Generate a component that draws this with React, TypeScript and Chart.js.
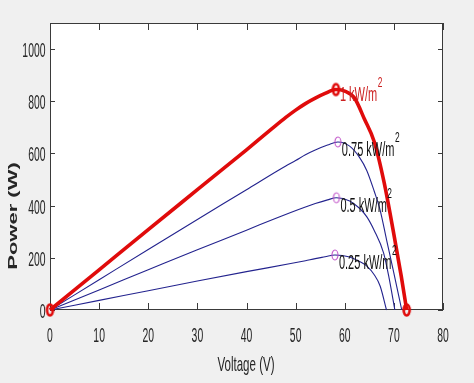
import React, { useEffect, useRef } from 'react';
import { Chart, registerables } from 'chart.js';

Chart.register(...registerables);

// ---- data ----
const xTicks = [0, 10, 20, 30, 40, 50, 60, 70, 80];
const yTicks = [0, 200, 400, 600, 800, 1000];

const v1000 = [0, 10, 20, 30, 40, 45, 48, 50, 52, 54, 56, 58.2, 60, 62, 64, 66, 68, 70, 71.5, 72.6];
const p1000 = [0, 154, 308, 461, 614, 692, 738, 766, 791, 812, 830, 845, 839, 812, 732, 645, 490, 290, 130, 0];

const v750 = [0, 10, 20, 30, 40, 46, 48, 50, 52, 54, 56.5, 58.6, 61, 63, 64.5, 66, 67.2, 68.5, 69.9, 71.6];
const p750 = [0, 116, 232, 347, 461, 530, 552, 573, 595, 613, 632, 644, 628, 585, 534, 455, 383, 270, 150, 0];

const v500 = [0, 10, 20, 30, 40, 46, 49, 52, 54, 56.5, 58.3, 61, 63, 64.5, 66, 67.9, 69, 70.2];
const p500 = [0, 77, 154, 231, 306, 352, 374, 395, 408, 422, 430, 418, 390, 357, 305, 219, 125, 0];

const v250 = [0, 10, 20, 30, 40, 49, 52, 54, 56, 58, 61, 63, 64.5, 66, 67.2, 68.5];
const p250 = [0, 37, 74, 111, 147, 178, 189, 197, 204, 211, 203, 186, 168, 135, 92, 0];

const seriesLabels = ['1 kW/m', '0.75 kW/m', '0.5 kW/m', '0.25 kW/m'];
const superscript = '2';
const xTitle = 'Voltage (V)';
const yTitle = 'Power (W)';

const FONT = '"Liberation Sans", Arial, Helvetica, sans-serif';
const TEXT = '#262626';

const pts = (v: number[], p: number[]) => v.map((x, i) => ({ x, y: p[i] }));
const peakOf = (v: number[], p: number[]) => {
  let k = 0;
  p.forEach((y, i) => { if (y > p[k]) k = i; });
  return { x: v[k], y: p[k] };
};

function ellipseStyle(rx: number, ry: number, color: string, lw: number) {
  const c = document.createElement('canvas');
  c.width = Math.ceil(rx * 2 + lw + 2);
  c.height = Math.ceil(ry * 2 + lw + 2);
  const g = c.getContext('2d')!;
  g.strokeStyle = color;
  g.lineWidth = lw;
  g.beginPath();
  g.ellipse(c.width / 2, c.height / 2, rx, ry, 0, 0, Math.PI * 2);
  g.stroke();
  return c;
}

function sText(ctx: CanvasRenderingContext2D, text: string, x: number, y: number, size: number, sx: number, align: CanvasTextAlign, color: string, weight = 'normal') {
  ctx.save();
  ctx.font = `${weight} ${size}px ${FONT}`;
  ctx.fillStyle = color;
  ctx.textBaseline = 'alphabetic';
  ctx.textAlign = align;
  ctx.translate(x, y);
  ctx.scale(sx, 1);
  ctx.fillText(text, 0, 0);
  const w = ctx.measureText(text).width * sx;
  ctx.restore();
  return w;
}

export default function App() {
  const ref = useRef<HTMLCanvasElement | null>(null);

  useEffect(() => {
    document.body.style.margin = '0';
    const canvas = ref.current!;
    const redMark = ellipseStyle(3, 5.5, '#e00b0b', 2.6);
    const magMark = ellipseStyle(3, 5, '#c050c8', 1.1);

    const peaks = [peakOf(v1000, p1000), peakOf(v750, p750), peakOf(v500, p500), peakOf(v250, p250)];
    const redMarkers = [
      { x: v1000[0], y: p1000[0] },
      peaks[0],
      { x: v1000[v1000.length - 1], y: p1000[p1000.length - 1] },
    ];

    const blue = '#23238e';
    const lineDs = (data: any[], color: string, width: number) => ({
      data,
      showLine: true,
      borderColor: color,
      borderWidth: width,
      pointRadius: 0,
      cubicInterpolationMode: 'monotone',
      clip: false,
    });

    const framePlugin = {
      id: 'frame',
      beforeDraw(chart: any) {
        const { ctx, chartArea: a } = chart;
        ctx.save();
        ctx.fillStyle = '#f0f0f0';
        ctx.fillRect(0, 0, chart.width, chart.height);
        ctx.fillStyle = '#ffffff';
        ctx.fillRect(a.left, a.top, a.right - a.left, a.bottom - a.top);
        ctx.restore();
      },
      beforeDatasetsDraw(chart: any) {
        const { ctx, chartArea: a, scales } = chart;
        const xs = scales.x, ys = scales.y;
        ctx.save();
        ctx.strokeStyle = '#3a3a3a';
        ctx.lineWidth = 1;
        ctx.strokeRect(a.left + 0.5, a.top + 0.5, a.right - a.left - 1, a.bottom - a.top - 1);
        ctx.beginPath();
        xTicks.forEach((t) => {
          const px = Math.round(xs.getPixelForValue(t)) + 0.5;
          ctx.moveTo(px, a.bottom); ctx.lineTo(px, a.bottom - 7);
          ctx.moveTo(px, a.top); ctx.lineTo(px, a.top + 7);
        });
        yTicks.forEach((t) => {
          const py = Math.round(ys.getPixelForValue(t)) + 0.5;
          ctx.moveTo(a.left, py); ctx.lineTo(a.left + 5, py);
          ctx.moveTo(a.right, py); ctx.lineTo(a.right - 5, py);
        });
        ctx.stroke();
        ctx.restore();

        // tick labels
        xTicks.forEach((t) => {
          sText(ctx, String(t), xs.getPixelForValue(t), 342, 20, 0.52, 'center', TEXT);
        });
        yTicks.forEach((t) => {
          sText(ctx, String(t), 45.5, ys.getPixelForValue(t) + 8, 20, 0.52, 'right', TEXT);
        });
        // titles
        sText(ctx, xTitle, 246, 371, 21, 0.55, 'center', TEXT);
        ctx.save();
        ctx.translate(13, 216);
        ctx.rotate(-Math.PI / 2);
        ctx.scale(1, 0.6);
        ctx.font = `bold 22px ${FONT}`;
        ctx.fillStyle = TEXT;
        ctx.textAlign = 'center';
        ctx.textBaseline = 'middle';
        ctx.fillText(yTitle, 0, 0);
        ctx.restore();
      },
      afterDatasetsDraw(chart: any) {
        const { ctx, scales } = chart;
        const xs = scales.x, ys = scales.y;
        peaks.forEach((pk, i) => {
          const px = xs.getPixelForValue(pk.x) + 4;
          const cy = ys.getPixelForValue(pk.y) + (i === 0 ? 4 : 7);
          const color = i === 0 ? '#cc2020' : '#111111';
          const w = sText(ctx, seriesLabels[i], px, cy + 7.2, 20, 0.55, 'left', color);
          sText(ctx, superscript, px + w + 0.5, cy - 6.5, 14, 0.6, 'left', color);
        });
      },
    };

    const chart = new Chart(canvas, {
      type: 'scatter',
      data: {
        datasets: [
          { data: redMarkers, pointStyle: redMark as any, pointRadius: 5, showLine: false, clip: false } as any,
          lineDs(pts(v1000, p1000), '#e00b0b', 3.6),
          { data: peaks.slice(1), pointStyle: magMark as any, pointRadius: 5, showLine: false, clip: false } as any,
          lineDs(pts(v750, p750), blue, 1.1),
          lineDs(pts(v500, p500), blue, 1.1),
          lineDs(pts(v250, p250), blue, 1.1),
        ],
      },
      options: {
        responsive: false,
        animation: false,
        events: [],
        layout: { padding: { left: 50, right: 31, top: 23, bottom: 73 } },
        plugins: { legend: { display: false }, tooltip: { enabled: false } },
        scales: {
          x: { type: 'linear', min: 0, max: 80, display: false },
          y: { type: 'linear', min: 0, max: 1100, display: false },
        },
      },
      plugins: [framePlugin],
    } as any);
    return () => chart.destroy();
  }, []);

  return <canvas ref={ref} width={474} height={383} style={{ display: 'block' }} />;
}
